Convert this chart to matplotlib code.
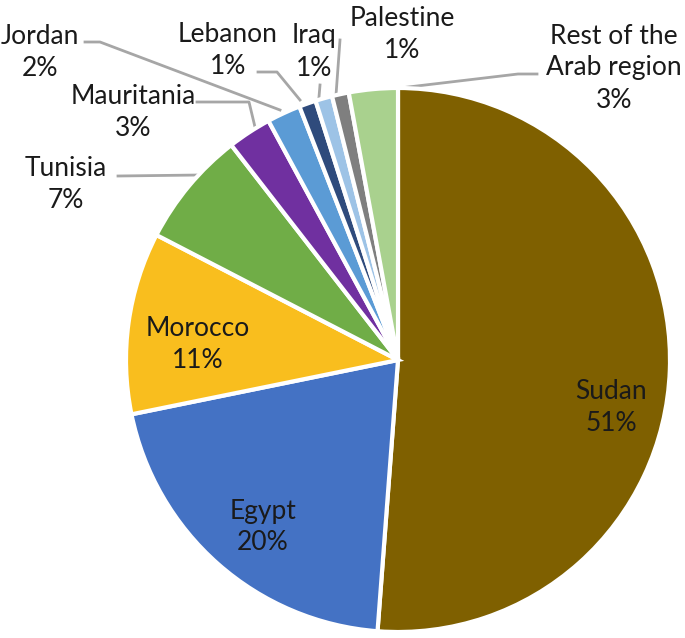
import matplotlib
matplotlib.use("Agg")
import matplotlib.pyplot as plt

countries = ["Sudan", "Egypt", "Morocco", "Tunisia", "Mauritania", "Jordan",
             "Lebanon", "Iraq", "Palestine", "Rest of the\nArab region"]
shares = [51.2, 20.6, 10.8, 6.9, 2.6, 2.0, 1.0, 1.0, 1.0, 2.9]
pct_labels = ["51%", "20%", "11%", "7%", "3%", "2%", "1%", "1%", "1%", "3%"]
colors = ["#7F6000", "#4472C4", "#F9BE1E", "#70AD47", "#7030A0", "#5B9BD5",
          "#2F4B7C", "#9DC3E6", "#7F7F7F", "#A9D18E"]

W, H = 685, 638
cx, cy, R = 398, 360, 272

fig = plt.figure(figsize=(W / 100, H / 100), dpi=100)
ax = fig.add_axes([(cx - R) / W, (H - cy - R) / H, 2 * R / W, 2 * R / H])
ax.set_xlim(-1, 1)
ax.set_ylim(-1, 1)
ax.set_aspect("equal")
ax.axis("off")

ax.pie(shares, colors=colors, startangle=90, counterclock=False, radius=1,
       wedgeprops=dict(edgecolor="white", linewidth=3), center=(0, 0),
       frame=False)
ax.set_xlim(-1, 1)
ax.set_ylim(-1, 1)


def d(px, py):
    return ((px - cx) / R, (cy - py) / R)


font = dict(family=["Lato", "DejaVu Sans"], fontsize=19, color="#1a1a1a",
            ha="center", va="center", linespacing=1.35)

# label pixel centres
label_pos = [(611, 408), (263, 527), (198, 345), (66, 185), (133, 113),
             (40, 52), (228, 51), (314, 52), (402, 34), (614, 68)]

for name, lab, (px, py) in zip(countries, pct_labels, label_pos):
    x, y = d(px, py)
    ax.text(x, y, f"{name}\n{lab}", clip_on=False, **font)

leaders = [
    [(118, 176), (200, 175)],
    [(197, 102), (249, 102), (255, 127)],
    [(85, 42), (100, 42), (280, 110)],
    [(258, 72), (277, 72), (300, 100)],
    [(320, 85), (319, 97)],
    [(340, 40), (336, 95)],
    [(537, 74), (518, 74), (400, 88)],
]
for pts in leaders:
    xs, ys = zip(*[d(px, py) for px, py in pts])
    ax.plot(xs, ys, color="#A6A6A6", lw=2, clip_on=False, zorder=0.5)

fig.savefig("out.png", dpi=100)
